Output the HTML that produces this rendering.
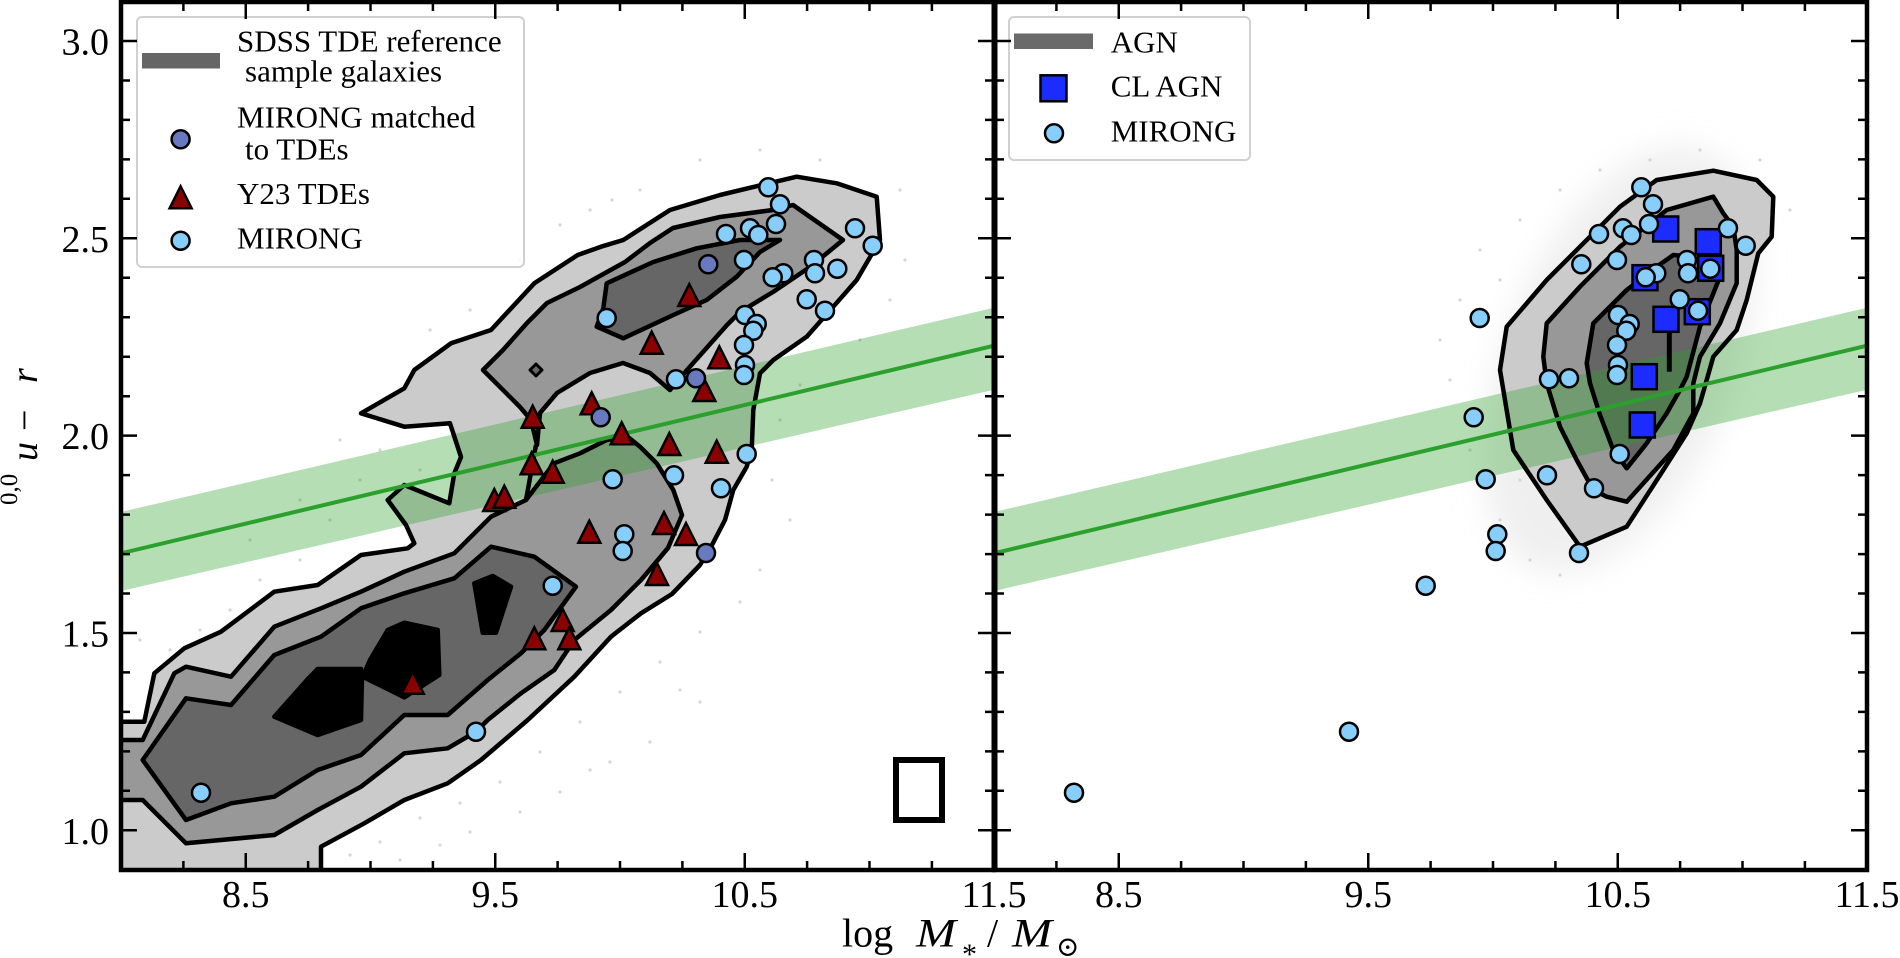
<!DOCTYPE html>
<html><head><meta charset="utf-8"><style>
html,body{margin:0;padding:0;background:#fff;}
svg{display:block;}
text{font-family:"Liberation Serif","DejaVu Serif",serif;fill:#000;}
.f1{fill:#cbcbcb;}
.f2{fill:#989898;}
.f3{fill:#666;}
.f4{fill:#000;}
.ln{fill:none;stroke:#000;stroke-width:4.5;stroke-linejoin:round;}
.dot{fill:#d6d6d6;}
</style></head><body>
<svg width="1900" height="958" viewBox="0 0 1900 958" xmlns="http://www.w3.org/2000/svg">
<defs>
<clipPath id="cpL"><rect x="121" y="2" width="873" height="868"/></clipPath>
<clipPath id="cpR"><rect x="994" y="2" width="873" height="868"/></clipPath>
<filter id="blur" x="-50%" y="-50%" width="200%" height="200%"><feGaussianBlur stdDeviation="16"/></filter>
<circle id="cl" r="9" fill="#87cefa" stroke="#000" stroke-width="2.5"/>
<circle id="cd" r="9" fill="#6979bf" stroke="#000" stroke-width="2.5"/>
<polygon id="tr" points="0,-11 11,11 -11,11" fill="#8b0000" stroke="#000" stroke-width="2.5" stroke-linejoin="miter"/>
<rect id="sq" x="-12.5" y="-12.5" width="25" height="25" fill="#1c2cff" stroke="#000" stroke-width="2.5"/>

<polygon id="LO" points="116,721.7 144.3,721.7 154.3,673.3 184.3,648.3 221,631.7 274.3,591.7 317.7,585 361,555 407.7,548.3 414.3,543.3 406,525 387.7,500 404.3,485 449.3,503.3 454.3,473.3 461,457 450,423.3 404.3,426.7 361,413.3 404.3,388.3 414.3,370 451,343.3 491,330 534.3,283.3 577.7,255 601,246.7 623.3,240 670,210 720,195 796.7,176.7 836.7,183.3 876.7,196.7 880,240 856.7,280 833.3,306.7 806.7,336.7 773.3,360 760,373.3 753.3,410 751.7,450 746.7,466.7 733.3,490 725,520 712,545 700,565 672,594 641,613.3 611,636.7 574.3,676.7 527.7,720 481,760 447.7,783.3 404.3,800 364.3,823.3 321,846.7 321,878 116,878"/>
<polygon id="L2a" points="116,740 142.7,740 174.3,673.3 186,666.7 231,676.7 274.3,626.7 321,608.3 361,591.7 404.3,571.7 454.3,553.3 491,516.7 526,500 554,463.3 580,453.3 606.7,440 626.7,436 640,446.7 656.7,463.3 673.3,490 682,515 668,548 641,580 611,610 574.3,640 554.3,670 521,693.3 487.7,720 476,731.7 447.7,748.3 404.3,753.3 361,786.7 317.7,810 274.3,835 186,843.3 142.7,800 116,800"/>
<polygon id="L2b" points="483,370 503,350 527,323 547,303 580,287 625,262 650,243 673,228 720,217 773,210 793,205 843,240 810,267 773,292 740,312 727,325 687,370 670,390 650,373 623,363 590,373 557,393 540,413 537,445 531,420 520,407"/>
<polygon id="L3a" points="142.7,760 186,698.3 231,705 274.3,655 321,636.7 361,608.3 404.3,593.3 454.3,578.3 491,546.7 534.3,556.7 576,586.7 544.3,630 521,653.3 487.7,680 447.7,715 404.3,715 361,755 317.7,770 274.3,796.7 231,803.3 186,820"/>
<polygon id="L3b" points="606.7,283.3 653.3,262 696.7,248.3 740,240 780,240 760,252 736.7,276.7 706.7,300 673.3,315 623.3,338.3 596.7,326.7 603.3,308.3"/>
<polygon id="LD" points="536,364 542,370 536,376 530,370"/>
<polygon id="K1" points="274.3,716.7 307,680 317.7,669 361,669 362,675 361,720 317.7,735"/>
<polygon id="K2" points="387.7,630 404.3,622.7 437.7,630 439.3,675 404.3,697.3 362.7,676.7 370,660"/>
<polygon id="K3" points="474.3,583.3 492.7,576 511,586.7 496,632.7 482.7,632.7"/>

<polygon id="RO" points="1713.3,170.7 1756.7,180 1773.3,196.7 1771.7,236.7 1758.3,253.3 1746.7,300 1736.7,330 1713.3,356.7 1706.7,380 1700,403.3 1686.7,433.3 1663.3,470 1626.7,526.7 1580,546.7 1546.7,500 1513.3,450 1500,370 1506.7,326.7 1546.7,280 1580,246.7 1620,206.7 1656.7,180"/>
<polygon id="R2" points="1713.3,196.7 1723.3,213.3 1733.3,226.7 1736.7,250 1736.7,283.3 1720,323.3 1700,356.7 1693.3,383.3 1693.3,413.3 1673.3,450 1626.7,501.7 1606.7,496.7 1593.3,490 1576.7,460 1560,426.7 1546.7,383.3 1543.3,356.7 1546.7,323.3 1580,286.7 1620,246.7 1666.7,210"/>
<polygon id="R3" points="1673.3,255 1693,257 1720,276.7 1700,326.7 1686.7,376.7 1680,390 1666.7,413.3 1646.7,443.3 1626.7,468.3 1613.3,450 1600,415 1590,383.3 1586.7,363.3 1593.3,323.3 1626.7,290 1656.7,266.7"/>
</defs>
<rect width="1900" height="958" fill="#fff"/>

<!-- LEFT PANEL -->
<g clip-path="url(#cpL)">
<g class="dot">
<circle cx="560" cy="225" r="1.6"/><circle cx="590" cy="210" r="1.6"/><circle cx="612" cy="200" r="1.6"/><circle cx="640" cy="190" r="1.6"/><circle cx="700" cy="160" r="1.6"/><circle cx="760" cy="150" r="1.6"/><circle cx="820" cy="160" r="1.6"/><circle cx="900" cy="190" r="1.6"/><circle cx="905" cy="260" r="1.6"/><circle cx="890" cy="300" r="1.6"/><circle cx="860" cy="340" r="1.6"/><circle cx="800" cy="385" r="1.6"/><circle cx="780" cy="420" r="1.6"/><circle cx="772" cy="480" r="1.6"/>
<circle cx="350" cy="855" r="1.6"/><circle cx="380" cy="842" r="1.6"/><circle cx="420" cy="818" r="1.6"/><circle cx="460" cy="803" r="1.6"/><circle cx="500" cy="782" r="1.6"/><circle cx="540" cy="752" r="1.6"/><circle cx="580" cy="722" r="1.6"/><circle cx="620" cy="692" r="1.6"/><circle cx="660" cy="662" r="1.6"/><circle cx="700" cy="632" r="1.6"/><circle cx="740" cy="602" r="1.6"/><circle cx="470" cy="832" r="1.6"/><circle cx="520" cy="812" r="1.6"/><circle cx="560" cy="792" r="1.6"/><circle cx="610" cy="762" r="1.6"/><circle cx="650" cy="742" r="1.6"/><circle cx="700" cy="702" r="1.6"/><circle cx="400" cy="860" r="1.6"/><circle cx="440" cy="845" r="1.6"/><circle cx="590" cy="770" r="1.6"/><circle cx="680" cy="690" r="1.6"/><circle cx="760" cy="570" r="1.6"/><circle cx="790" cy="520" r="1.6"/>
<circle cx="300" cy="560" r="1.6"/><circle cx="260" cy="580" r="1.6"/><circle cx="230" cy="610" r="1.6"/><circle cx="200" cy="630" r="1.6"/><circle cx="170" cy="650" r="1.6"/><circle cx="330" cy="520" r="1.6"/><circle cx="360" cy="480" r="1.6"/><circle cx="300" cy="500" r="1.6"/><circle cx="250" cy="540" r="1.6"/><circle cx="140" cy="640" r="1.6"/><circle cx="420" cy="470" r="1.6"/><circle cx="380" cy="450" r="1.6"/><circle cx="340" cy="440" r="1.6"/><circle cx="430" cy="330" r="1.6"/><circle cx="470" cy="310" r="1.6"/><circle cx="520" cy="260" r="1.6"/>
</g>
<use href="#LO" class="f1"/>
<use href="#L2a" class="f2"/>
<use href="#L2b" class="f2"/>
<use href="#L3a" class="f3"/>
<use href="#L3b" class="f3"/>
<use href="#LD" class="f3"/>
<use href="#K1" class="f4"/>
<use href="#K2" class="f4"/>
<use href="#K3" class="f4"/>
<polygon points="121,512 994,307.7 994,389.7 121,591" fill="#2ca02c" fill-opacity="0.35"/>
<use href="#LO" class="ln"/>
<use href="#L2a" class="ln"/>
<use href="#L2b" class="ln"/>
<use href="#L3a" class="ln"/>
<use href="#L3b" class="ln"/>
<use href="#LD" class="ln" style="stroke-width:3"/>
<use href="#K1" class="ln"/>
<use href="#K2" class="ln"/>
<use href="#K3" class="ln"/>
<path d="M526,500 L536,445" stroke="#000" stroke-width="4.5" fill="none"/>
<path d="M121,553.3 L994,345.7" stroke="#2ca02c" stroke-width="4" fill="none"/>
<rect x="896" y="760" width="46" height="60" fill="none" stroke="#000" stroke-width="6"/>
<!-- MIRONG light -->
<use href="#cl" x="201" y="792.7"/><use href="#cl" x="476" y="731.7"/><use href="#cl" x="552.7" y="585.7"/><use href="#cl" x="612.7" y="479.3"/><use href="#cl" x="624.3" y="534.3"/><use href="#cl" x="622.7" y="551"/><use href="#cl" x="768.3" y="187.3"/><use href="#cl" x="780" y="204.3"/><use href="#cl" x="776" y="224"/><use href="#cl" x="726" y="234"/><use href="#cl" x="750" y="228.3"/><use href="#cl" x="758.3" y="235"/><use href="#cl" x="744" y="260"/><use href="#cl" x="855" y="228.3"/><use href="#cl" x="872.7" y="245.7"/><use href="#cl" x="814" y="260"/><use href="#cl" x="815" y="273.3"/><use href="#cl" x="837.3" y="268.7"/><use href="#cl" x="783.3" y="273.3"/><use href="#cl" x="772.7" y="277.3"/><use href="#cl" x="806.7" y="299.3"/><use href="#cl" x="825" y="310.7"/><use href="#cl" x="606.7" y="318"/><use href="#cl" x="745" y="315"/><use href="#cl" x="756.7" y="324"/><use href="#cl" x="753.3" y="330.7"/><use href="#cl" x="744" y="345"/><use href="#cl" x="745" y="365"/><use href="#cl" x="744" y="375"/><use href="#cl" x="676" y="379.3"/><use href="#cl" x="746.7" y="454"/><use href="#cl" x="674" y="475.3"/><use href="#cl" x="721" y="488.3"/>
<!-- Y23 TDEs -->
<use href="#tr" x="689.3" y="295"/><use href="#tr" x="651.7" y="342.7"/><use href="#tr" x="719.3" y="357.3"/><use href="#tr" x="704.3" y="390"/><use href="#tr" x="591.7" y="403.3"/><use href="#tr" x="532.7" y="416.7"/><use href="#tr" x="621.7" y="433.3"/><use href="#tr" x="669.3" y="444"/><use href="#tr" x="716.7" y="451.7"/><use href="#tr" x="531.7" y="463.3"/><use href="#tr" x="552.7" y="471.7"/><use href="#tr" x="494.3" y="500"/><use href="#tr" x="504.3" y="496.7"/><use href="#tr" x="589.3" y="531.7"/><use href="#tr" x="562.7" y="620"/><use href="#tr" x="534.3" y="638.3"/><use href="#tr" x="569.3" y="638.3"/><use href="#tr" x="412.7" y="682.7"/><use href="#tr" x="664" y="523"/><use href="#tr" x="686" y="534"/><use href="#tr" x="657" y="574"/>
<!-- matched -->
<use href="#cd" x="708.3" y="264.3"/><use href="#cd" x="696" y="378.3"/><use href="#cd" x="600.7" y="417.3"/><use href="#cd" x="706" y="553"/>
</g>

<!-- LEFT LEGEND -->
<rect x="137" y="17" width="387" height="250" rx="5" fill="#fff" fill-opacity="0.85" stroke="#d0d0d0" stroke-width="2"/>
<rect x="142" y="53" width="78" height="15.5" fill="#666"/>
<text x="237" y="51.7" font-size="31">SDSS TDE reference</text>
<text x="245" y="81.7" font-size="31">sample galaxies</text>
<use href="#cd" x="180.6" y="139.3"/>
<text x="237" y="127.7" font-size="31">MIRONG matched</text>
<text x="245" y="159.3" font-size="31">to TDEs</text>
<use href="#tr" x="180.6" y="197.3"/>
<text x="237" y="204" font-size="31">Y23 TDEs</text>
<use href="#cl" x="180.6" y="240.7"/>
<text x="237" y="248.3" font-size="31">MIRONG</text>

<!-- RIGHT PANEL -->
<g clip-path="url(#cpR)">
<ellipse cx="1620" cy="360" rx="115" ry="225" transform="rotate(22 1620 360)" fill="#dcdcdc" fill-opacity="0.45" filter="url(#blur)"/>
<g class="dot">
<circle cx="1460" cy="300" r="1.6"/><circle cx="1480" cy="250" r="1.6"/><circle cx="1520" cy="220" r="1.6"/><circle cx="1560" cy="190" r="1.6"/><circle cx="1600" cy="170" r="1.6"/><circle cx="1650" cy="160" r="1.6"/><circle cx="1700" cy="150" r="1.6"/><circle cx="1760" cy="160" r="1.6"/><circle cx="1790" cy="210" r="1.6"/><circle cx="1450" cy="380" r="1.6"/><circle cx="1470" cy="450" r="1.6"/><circle cx="1500" cy="520" r="1.6"/><circle cx="1530" cy="560" r="1.6"/><circle cx="1560" cy="575" r="1.6"/><circle cx="1440" cy="340" r="1.6"/><circle cx="1500" cy="280" r="1.6"/><circle cx="1520" cy="480" r="1.6"/>
</g>
<use href="#RO" class="f1"/>
<use href="#R2" class="f2"/>
<use href="#R3" class="f3"/>
<polygon points="994,512 1867,307.7 1867,389.7 994,591" fill="#2ca02c" fill-opacity="0.35"/>
<use href="#RO" class="ln"/>
<use href="#R2" class="ln"/>
<use href="#R3" class="ln"/>
<path d="M1669.3,330 L1669.3,371.7" stroke="#000" stroke-width="5" fill="none"/>
<path d="M994,553.3 L1867,345.7" stroke="#2ca02c" stroke-width="4" fill="none"/>
<!-- CL AGN -->
<use href="#sq" x="1665.7" y="229"/><use href="#sq" x="1708.3" y="241.7"/><use href="#sq" x="1710.7" y="268.3"/><use href="#sq" x="1645" y="277.7"/><use href="#sq" x="1666" y="319.3"/><use href="#sq" x="1697.3" y="311.7"/><use href="#sq" x="1644.3" y="376.7"/><use href="#sq" x="1642.3" y="425"/>
<!-- MIRONG -->
<use href="#cl" x="1074" y="792.7"/><use href="#cl" x="1349" y="731.7"/><use href="#cl" x="1425.7" y="585.7"/><use href="#cl" x="1485.7" y="479.3"/><use href="#cl" x="1497.3" y="534.3"/><use href="#cl" x="1495.7" y="551"/><use href="#cl" x="1641.3" y="187.3"/><use href="#cl" x="1653" y="204.3"/><use href="#cl" x="1649" y="224"/><use href="#cl" x="1599" y="234"/><use href="#cl" x="1623" y="228.3"/><use href="#cl" x="1631.3" y="235"/><use href="#cl" x="1617" y="260"/><use href="#cl" x="1728" y="228.3"/><use href="#cl" x="1745.7" y="245.7"/><use href="#cl" x="1687" y="260"/><use href="#cl" x="1688" y="273.3"/><use href="#cl" x="1710.3" y="268.7"/><use href="#cl" x="1656.3" y="273.3"/><use href="#cl" x="1645.7" y="277.3"/><use href="#cl" x="1679.7" y="299.3"/><use href="#cl" x="1698" y="310.7"/><use href="#cl" x="1479.7" y="318"/><use href="#cl" x="1618" y="315"/><use href="#cl" x="1629.7" y="324"/><use href="#cl" x="1626.3" y="330.7"/><use href="#cl" x="1617" y="345"/><use href="#cl" x="1618" y="365"/><use href="#cl" x="1617" y="375"/><use href="#cl" x="1549" y="379.3"/><use href="#cl" x="1619.7" y="454"/><use href="#cl" x="1547" y="475.3"/><use href="#cl" x="1594" y="488.3"/><use href="#cl" x="1581.3" y="264.3"/><use href="#cl" x="1569" y="378.3"/><use href="#cl" x="1473.7" y="417.3"/><use href="#cl" x="1579" y="553"/>
</g>

<!-- RIGHT LEGEND -->
<rect x="1009" y="17" width="241" height="143" rx="5" fill="#fff" fill-opacity="0.85" stroke="#d0d0d0" stroke-width="2"/>
<rect x="1014" y="33.5" width="79" height="15.5" fill="#6a6a6a"/>
<text x="1110.7" y="52.3" font-size="31">AGN</text>
<rect x="1040.5" y="75.3" width="26" height="26" fill="#1c2cff" stroke="#000" stroke-width="2.5"/>
<text x="1110.7" y="96.7" font-size="31">CL AGN</text>
<use href="#cl" x="1054" y="133.3"/>
<text x="1110.7" y="141.7" font-size="31">MIRONG</text>

<!-- SPINES -->
<rect x="121" y="2" width="873" height="868" fill="none" stroke="#000" stroke-width="4.5"/>
<rect x="994" y="2" width="873" height="868" fill="none" stroke="#000" stroke-width="4.5"/>
<path d="M994.5,0 L994.5,872" stroke="#000" stroke-width="6"/>

<!-- TICKS -->
<g stroke="#000" stroke-width="2.5" fill="none">
<path d="M245.75,870v-17M495.25,870v-17M744.75,870v-17M245.75,2v17M495.25,2v17M744.75,2v17
M1118.75,870v-17M1368.25,870v-17M1617.75,870v-17M1118.75,2v17M1368.25,2v17M1617.75,2v17"/>
<path d="M183.4,870v-9M308.1,870v-9M370.5,870v-9M432.9,870v-9M557.6,870v-9M620,870v-9M682.4,870v-9M807.1,870v-9M869.5,870v-9M931.9,870v-9
M183.4,2v9M308.1,2v9M370.5,2v9M432.9,2v9M557.6,2v9M620,2v9M682.4,2v9M807.1,2v9M869.5,2v9M931.9,2v9
M1056.4,870v-9M1181.1,870v-9M1243.5,870v-9M1305.9,870v-9M1430.6,870v-9M1493,870v-9M1555.4,870v-9M1680.1,870v-9M1742.5,870v-9M1804.9,870v-9
M1056.4,2v9M1181.1,2v9M1243.5,2v9M1305.9,2v9M1430.6,2v9M1493,2v9M1555.4,2v9M1680.1,2v9M1742.5,2v9M1804.9,2v9"/>
<path d="M121,830.3h16M121,633h16M121,435.6h16M121,238.3h16M121,41h16
M978,830.3h33M978,633h33M978,435.6h33M978,238.3h33M978,41h33
M1867,830.3h-16M1867,633h-16M1867,435.6h-16M1867,238.3h-16M1867,41h-16"/>
<path d="M121,790.8h9M121,751.4h9M121,711.9h9M121,672.4h9M121,593.5h9M121,554.1h9M121,514.6h9M121,475.1h9M121,396.2h9M121,356.7h9M121,317.3h9M121,277.8h9M121,198.8h9M121,159.4h9M121,119.9h9M121,80.5h9
M985,790.8h19M985,751.4h19M985,711.9h19M985,672.4h19M985,593.5h19M985,554.1h19M985,514.6h19M985,475.1h19M985,396.2h19M985,356.7h19M985,317.3h19M985,277.8h19M985,198.8h19M985,159.4h19M985,119.9h19M985,80.5h19
M1867,790.8h-9M1867,751.4h-9M1867,711.9h-9M1867,672.4h-9M1867,593.5h-9M1867,554.1h-9M1867,514.6h-9M1867,475.1h-9M1867,396.2h-9M1867,356.7h-9M1867,317.3h-9M1867,277.8h-9M1867,198.8h-9M1867,159.4h-9M1867,119.9h-9M1867,80.5h-9"/>
</g>

<!-- TICK LABELS -->
<g font-size="38" text-anchor="end">
<text x="109" y="844">1.0</text>
<text x="109" y="646.5">1.5</text>
<text x="109" y="449.1">2.0</text>
<text x="109" y="251.8">2.5</text>
<text x="109" y="54.5">3.0</text>
</g>
<g font-size="38" text-anchor="middle">
<text x="245.75" y="907">8.5</text>
<text x="495.25" y="907">9.5</text>
<text x="744.75" y="907">10.5</text>
<text x="994" y="907">11.5</text>
<text x="1118.75" y="907">8.5</text>
<text x="1368.25" y="907">9.5</text>
<text x="1617.75" y="907">10.5</text>
<text x="1867" y="907">11.5</text>
</g>

<!-- AXIS LABELS -->
<text x="842" y="946.7" font-size="40">log</text>
<text x="916" y="946.7" font-size="40" font-style="italic" textLength="40" lengthAdjust="spacingAndGlyphs">M</text>
<text x="962" y="964" font-size="30">*</text>
<text x="987" y="946.7" font-size="40">/</text>
<text x="1012" y="946.7" font-size="40" font-style="italic" textLength="40" lengthAdjust="spacingAndGlyphs">M</text>
<text x="1056" y="956" font-size="28">⊙</text>

<g transform="translate(37,505) rotate(-90)">
<text x="0" y="-20" font-size="25">0,0</text>
<text x="44" y="0" font-size="38" font-style="italic">u</text>
<text x="74" y="0" font-size="38">−</text>
<text x="122" y="0" font-size="38" font-style="italic">r</text>
</g>
</svg>
</body></html>
